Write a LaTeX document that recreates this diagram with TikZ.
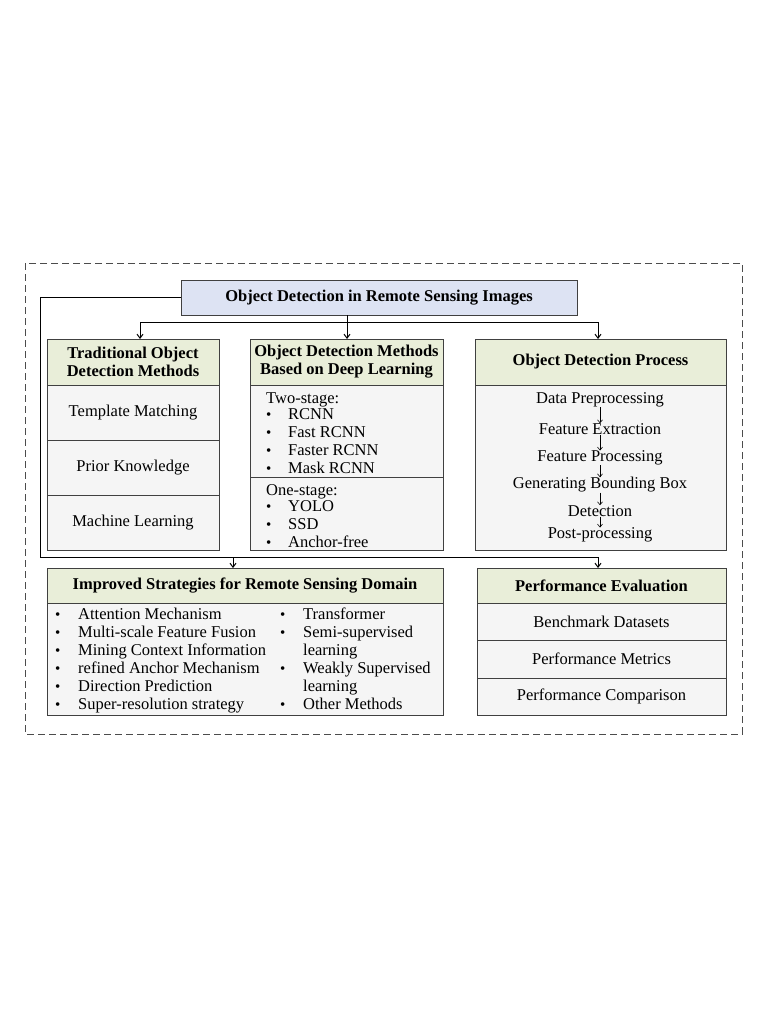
\documentclass[tikz,border=0pt]{standalone}
\usepackage{fontspec}
\setmainfont{Liberation Serif}
\usetikzlibrary{arrows.meta}
\definecolor{topblue}{HTML}{DDE3F3}
\definecolor{hdrgreen}{HTML}{E9EED9}
\definecolor{bodygray}{HTML}{F5F5F5}
\begin{document}
\begin{tikzpicture}[x=1pt,y=-1pt,
  box/.style={draw=black!75,line width=1pt},
  hdr/.style={font=\fontsize{16.5}{18}\selectfont\bfseries,align=center,inner sep=0pt},
  txt/.style={font=\fontsize{16.5}{18}\selectfont,align=center,inner sep=0pt},
  itm/.style={font=\fontsize{16.5}{18}\selectfont,anchor=base west,inner sep=0pt,yshift=-5pt},
  bul/.style={font=\fontsize{15}{16}\selectfont,anchor=base west,inner sep=0pt,yshift=-5pt},
  conn/.style={draw=black,line width=1pt},
  arr/.style={conn,-{Straight Barb[length=4pt,width=6pt]}},
  sarr/.style={draw=black,line width=0.6pt,-{Straight Barb[length=3pt,width=5pt]}}]
\useasboundingbox (0,0) rectangle (768,1024);
\draw[dashed,line width=1pt,black!70,dash pattern=on 7pt off 4pt] (25,263) rectangle (742,734);
% top
\draw[box,fill=topblue] (181,280) rectangle (577,315);
\node[hdr] (top) at (379,297.5) {Object Detection in Remote Sensing Images};
% traditional
\draw[box,fill=hdrgreen] (47,339) rectangle (219,385);
\draw[box,fill=bodygray] (47,385) rectangle (219,440);
\draw[box,fill=bodygray] (47,440) rectangle (219,495);
\draw[box,fill=bodygray] (47,495) rectangle (219,550);
\node[hdr] (trad) at (133,362) {Traditional Object\\Detection Methods};
\node[txt] (tm) at (133,412.5) {Template Matching};
\node[txt] (pk) at (133,467.5) {Prior Knowledge};
\node[txt] (ml) at (133,522.5) {Machine Learning};
% deep
\draw[box,fill=hdrgreen] (250,339) rectangle (443,385);
\draw[box,fill=bodygray] (250,385) rectangle (443,477);
\draw[box,fill=bodygray] (250,477) rectangle (443,550);
\node[hdr] (deep) at (346.5,362) {Object Detection Methods\\Based on Deep Learning};
\node[itm] (ts) at (266,398) {Two-stage:};
\foreach \t/\y/\n in {RCNN/414/a,Fast RCNN/432/b,Faster RCNN/450/c,Mask RCNN/468/d}{
  \node[bul] (b\n) at (266,\y) {\textbullet};
  \node[itm] (t\n) at (288,\y) {\t};}
\node[itm] (os) at (266,490) {One-stage:};
\foreach \t/\y/\n in {YOLO/506/e,SSD/524/f,Anchor-free/542/g}{
  \node[bul] (b\n) at (266,\y) {\textbullet};
  \node[itm] (t\n) at (288,\y) {\t};}
% process
\draw[box,fill=hdrgreen] (475,339) rectangle (726,385);
\draw[box,fill=bodygray] (475,385) rectangle (726,550);
\node[hdr] (proc) at (600.5,362) {Object Detection Process};
\node[txt] (p1) at (600,400) {Data Preprocessing};
\node[txt] (p2) at (600,429) {Feature Extraction};
\node[txt] (p3) at (600,458) {Feature Processing};
\node[txt] (p4) at (600,485) {Generating Bounding Box};
\node[txt] (p5) at (600,511) {Detection};
\node[txt] (p6) at (600,535) {Post-processing};
\foreach \a/\b in {p1/p2,p2/p3,p3/p4,p4/p5,p5/p6}
  \draw[sarr] (\a.south -| 600,0) -- (\b.north -| 600,0);
% improved
\draw[box,fill=hdrgreen] (47,568) rectangle (443,603);
\draw[box,fill=bodygray] (47,603) rectangle (443,715);
\node[hdr] (impr) at (245,585.5) {Improved Strategies for Remote Sensing Domain};
\foreach \t/\y/\n in {Attention Mechanism/614/a,Multi-scale Feature Fusion/632/b,Mining Context Information/650/c,refined Anchor Mechanism/668/d,Direction Prediction/686/e,Super-resolution strategy/704/f}{
  \node[bul] (ib\n) at (55,\y) {\textbullet};
  \node[itm] (it\n) at (78,\y) {\t};}
\foreach \y/\n in {614/g,632/h,668/i,704/j}
  \node[bul] (ib\n) at (280,\y) {\textbullet};
\node[itm] (itg) at (303,614) {Transformer};
\node[itm] (ith) at (303,632) {Semi-supervised};
\node[itm] (ith2) at (303,650) {learning};
\node[itm] (iti) at (303,668) {Weakly Supervised};
\node[itm] (iti2) at (303,686) {learning};
\node[itm] (itj) at (303,704) {Other Methods};
% performance
\draw[box,fill=hdrgreen] (477,568) rectangle (726,603);
\draw[box,fill=bodygray] (477,603) rectangle (726,640);
\draw[box,fill=bodygray] (477,640) rectangle (726,678);
\draw[box,fill=bodygray] (477,678) rectangle (726,715);
\node[hdr] (perf) at (601.5,585.5) {Performance Evaluation};
\node[txt] (bd) at (601.5,621.5) {Benchmark Datasets};
\node[txt] (pm) at (601.5,659) {Performance Metrics};
\node[txt] (pc) at (601.5,696.5) {Performance Comparison};
% connectors
\coordinate (j) at (347,322);
\draw[conn] (347,315) -- (j);
\draw[conn] (140,322) -- (598,322);
\draw[arr] (140,322) -- (140,339);
\draw[arr] (347,322) -- (347,339);
\draw[arr] (598,322) -- (598,339);
\draw[conn] (181,297) -- (40,297) -- (40,557) -- (598,557);
\draw[arr] (233,557) -- (233,568);
\draw[arr] (598,557) -- (598,568);
\end{tikzpicture}
\end{document}
